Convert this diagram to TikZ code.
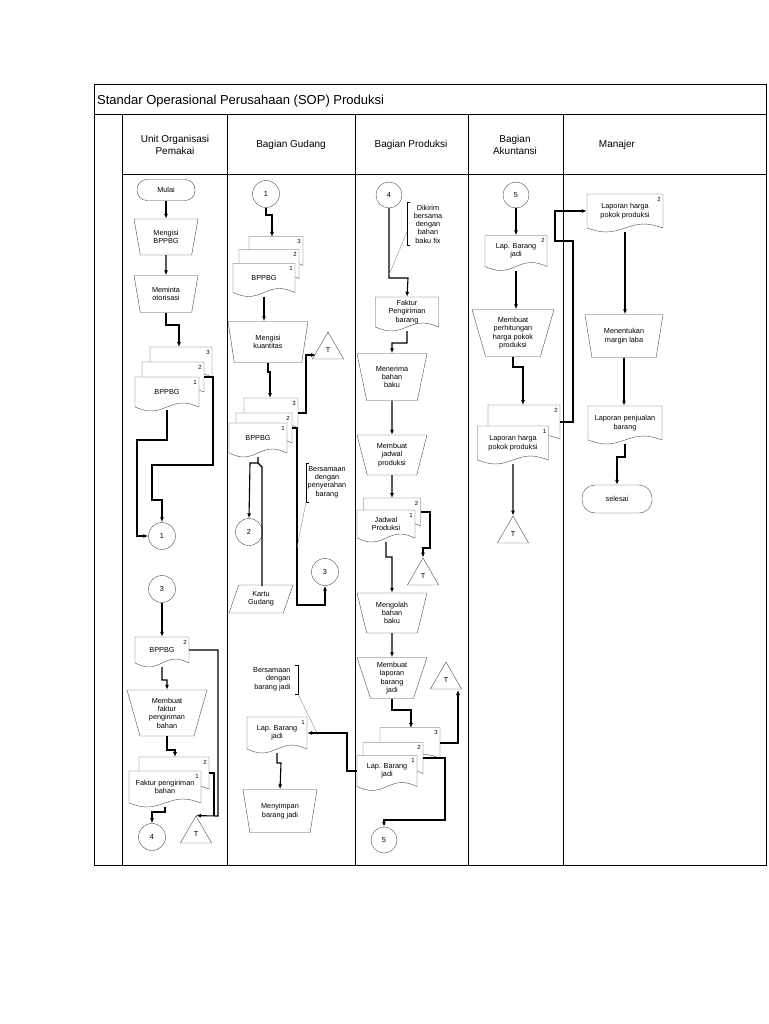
\documentclass[tikz,border=0pt]{standalone}
\usepackage{fontspec}
\setmainfont{Liberation Sans}
\usetikzlibrary{shapes.geometric,arrows.meta,calc}
\tikzset{
 frame/.style={line width=1pt,draw=black},
 shp/.style={draw=black!70,line width=0.4pt,fill=white},
 docshape/.style={shp},
 doctext/.style={inner sep=0pt,align=center,font=\fontsize{7.3}{8.3}\selectfont},
 num/.style={inner sep=0pt,font=\fontsize{6}{7}\selectfont},
 txt/.style={align=center,font=\fontsize{7.3}{8.3}\selectfont},
 term/.style={shp,rounded corners=10pt,txt},
 proc/.style={shp,trapezium,trapezium left angle=68,trapezium right angle=68,shape border rotate=180,trapezium stretches body,txt,inner sep=1pt},
 para/.style={shp,trapezium,trapezium left angle=60,trapezium right angle=120,trapezium stretches body,txt,inner sep=1pt},
 con/.style={shp,circle,minimum size=27pt,inner sep=0pt,txt},
 tri/.style={shp,regular polygon,regular polygon sides=3,minimum size=36pt,inner sep=0pt,font=\fontsize{7.3}{8}\selectfont},
 arr/.style={line width=1.1pt,-{Latex[length=5pt,width=4pt]}},
 ln/.style={line width=1.1pt},
 note/.style={line width=0.4pt,draw=black!45}
}
\newcommand\Doc[7]{%
 \path[docshape] ({#2-#4/2},{#3+#5/2}) sin ++({#4/4},4) cos ++({#4/4},-4) sin ++({#4/4},-4) cos ++({#4/4},4) -- ++(0,{-#5}) -- ++({-#4},0) -- cycle;
 \node[doctext,minimum width=#4,minimum height=#5] (#1) at (#2,#3) {#6};
 \node[num] at ({#2+#4/2-4},{#3-#5/2+5}) {#7};}
\begin{document}
\begin{tikzpicture}[x=1pt,y=-1pt]
\useasboundingbox[fill=white] (0,0) rectangle (768,1024);
% frame
\draw[frame] (94,85) rectangle (766,865);
\draw[frame] (94,115) -- (766,115);
\draw[frame] (122,175) -- (766,175);
\foreach \x in {122,227,355,468,563} \draw[frame] (\x,115) -- (\x,865);
\node[anchor=west,inner sep=0pt,font=\fontsize{13}{15}\selectfont] (title) at (97,101) {Standar Operasional Perusahaan (SOP) Produksi};
\tikzset{hd/.style={align=center,font=\fontsize{10}{12}\selectfont}}
\node[hd] (h1) at (175,145) {Unit Organisasi\\Pemakai};
\node[hd] (h2) at (291,145) {Bagian Gudang};
\node[hd] (h3) at (411,145) {Bagian Produksi};
\node[hd] (h4) at (515,145) {Bagian\\Akuntansi};
\node[hd] (h5) at (617,145) {Manajer};

% ===== column 1
\node[term,minimum width=58pt,minimum height=21pt] (mulai) at (166,190) {Mulai};
\node[proc,minimum width=64pt,minimum height=36pt] (m1) at (166,237) {Mengisi\\BPPBG};
\node[proc,minimum width=64pt,minimum height=37pt] (m2) at (166,294) {Meminta\\otorisasi};
\Doc{s1c}{181}{362}{62}{30}{}{3}
\Doc{s1b}{173}{377}{62}{30}{}{2}
\Doc{s1}{167}{392}{64}{30}{BPPBG}{1}
\node[con] (cir1) at (162,536) {1};
\draw[arr] (mulai) -- (m1);
\draw[arr] (m1) -- (m2);
\draw[arr] (m2.south) |- (179,325) -- (179,347);
\draw[arr] ([yshift=-3pt]s1.south) |- (137,440) |- (cir1.west);
\draw[arr] (s1b.east) -| (213,465) -| (152,500) -| (cir1.north);

\node[con] (cir3) at (162,589) {3};
\Doc{b2}{162}{650}{54}{26}{BPPBG}{2}
\node[proc,minimum width=80pt,minimum height=46pt] (m3) at (167,713) {Membuat\\faktur\\pengiriman\\bahan};
\Doc{f1b}{174}{773}{70}{32}{}{2}
\Doc{f1}{165}{787}{72}{32}{Faktur pengiriman\\bahan}{1}
\node[con] (cir4) at (152,837) {4};
\node[tri] (T1) at (196,834) {T};
\draw[arr] (cir3) -- (b2.north);
\draw[arr] ([yshift=-4pt]b2.south) |- (167,680) -- (m3.north);
\draw[arr] (m3.south) |- (175,750) -- (175,757);
\draw[arr] ([yshift=-4pt]f1.south) |- (152,812) -- (cir4.north);
\draw[arr] (b2.east) -| (218,816) -- (T1.north);
\draw[ln] (f1b.east) -| (214,816);

% ===== column 2
\node[con] (cir1b) at (266,194) {1};
\Doc{g1c}{276}{251}{54}{29}{}{3}
\Doc{g1b}{269}{264}{60}{29}{}{2}
\Doc{g1}{264}{278}{62}{29}{BPPBG}{1}
\node[proc,minimum width=80pt,minimum height=41pt] (k) at (268,342) {Mengisi\\kuantitas};
\Doc{g2c}{271}{413}{54}{30}{}{3}
\Doc{g2b}{264}{428}{56}{30}{}{2}
\Doc{g2}{258}{438}{58}{30}{BPPBG}{1}
\node[tri] (T2) at (328,350) {T};
\node[con] (cir2) at (249,532) {2};
\node[para,minimum width=64pt,minimum height=28pt] (kartu) at (261,599) {Kartu\\Gudang};
\node[con] (cir3b) at (325,572) {3};
\draw[arr] (cir1b.south) |- (272,215) -- (272,237);
\draw[arr] ([yshift=-4pt]g1.south) -- (g1.south |- k.north);
\draw[arr] (k.south) |- (270,372) -- (270,398);
\draw[arr] (g2c.east) -| (306,355) -- (316,355);
\draw[arr] ([yshift=-4pt]g2.south) |- (250,463) -- (cir2.north);
\draw[ln] (258,463) -- (262,467) -- (262,586);
\draw[arr] (g2b.east) -| (297,605) -| (cir3b.south);
\draw[line width=0.5pt] (309,463) -- (306,463) -- (306,502) -- (309,502);
\node[txt] (ann1) at (327,482) {Bersamaan\\dengan\\penyerahan\\barang};
\draw[note] (306,502) -- (297,548);

\node[txt,align=right,anchor=east] (ann2) at (294,679) {Bersamaan\\dengan\\barang jadi};
\draw[line width=0.5pt] (295,665) -- (298,665) -- (298,694) -- (295,694);
\draw[note] (298,694) -- (318,735);
\Doc{lj1}{277}{733}{60}{32}{Lap. Barang\\jadi}{1}
\node[proc,minimum width=74pt,minimum height=43pt] (ms) at (280,811) {Menyimpan\\barang jadi};
\draw[arr] ([yshift=-4pt]lj1.south) |- (281,763) -- (ms.north);

% ===== column 3
\node[con,minimum size=26pt] (cir4b) at (389,195) {4};
\Doc{fp}{407}{312}{63}{30}{Faktur\\Pengiriman\\barang}{}
\draw[arr] (cir4b.south) |- (408,278) -- (fp.north);
\draw[line width=0.5pt] (410,202) -- (407,202) -- (407,245) -- (410,245);
\node[txt] (ann3) at (428,224) {Dikirim\\bersama\\dengan\\bahan\\baku fix};
\draw[note] (407,232) -- (389,275);
\node[proc,minimum width=70pt,minimum height=47pt] (mb) at (392,377) {Menerima\\bahan\\baku};
\node[proc,minimum width=70pt,minimum height=40pt] (mj) at (392,455) {Membuat\\jadwal\\produksi};
\Doc{jpb}{392}{512}{57}{28}{}{2}
\Doc{jp}{386}{524}{58}{28}{Jadwal\\Produksi}{1}
\node[tri] (T3) at (423,576) {T};
\node[proc,minimum width=70pt,minimum height=40pt] (mo) at (392,613) {Mengolah\\bahan\\baku};
\node[proc,minimum width=70pt,minimum height=41pt] (ml) at (392,678) {Membuat\\laporan\\barang\\jadi};
\Doc{lpc}{410}{743}{60}{31}{}{3}
\Doc{lpb}{393}{758}{60}{31}{}{2}
\Doc{lp1}{387}{771}{60}{31}{Lap. Barang\\jadi}{1}
\node[tri] (T4) at (446,680) {T};
\node[con,minimum size=26pt] (cir5) at (384,840) {5};
\draw[arr] ([yshift=-4pt]fp.south) |- (392,343) -- (mb.north);
\draw[arr] (mb) -- (mj);
\draw[arr] (mj.south) -- (392,498);
\draw[arr] (jpb.east) -| (430,548) -| (T3.north);
\draw[arr] ([yshift=-4pt]jp.south) |- (392,557) -- (mo.north);
\draw[arr] (mo) -- (ml);
\draw[arr] (ml.south) |- (411,710) -- (411,728);
\draw[arr] (lpc.east) -| (458,690);
\draw[arr] (lpb.east) -| (445,820) -| (cir5.north);
\draw[arr] (lp1.west) -| (347,733) -- (lj1.east);

% ===== column 4
\node[con,minimum size=26pt] (cir5b) at (516,195) {5};
\Doc{lb}{516}{251}{62}{31}{Lap. Barang\\jadi}{2}
\node[proc,minimum width=82pt,minimum height=47pt] (hp) at (513,333) {Membuat\\perhitungan\\harga pokok\\produksi};
\Doc{lhb}{524}{422}{72}{34}{}{2}
\Doc{lh}{513}{443}{71}{34}{Laporan harga\\pokok produksi}{1}
\node[tri] (T5) at (513,534) {T};
\draw[arr] (cir5b) -- (lb.north);
\draw[arr] ([yshift=-4pt]lb.south) -- (lb.south |- hp.north);
\draw[arr] (hp.south) |- (523,367) -- (523,405);
\draw[arr] ([yshift=-4pt]lh.south) -- (T5.north);

% ===== column 5
\Doc{lm}{625}{211}{76}{34}{Laporan harga\\pokok produksi}{2}
\node[proc,minimum width=78pt,minimum height=43pt] (mm) at (624,336) {Menentukan\\margin laba};
\Doc{lpj}{625}{423}{74}{34}{Laporan penjualan\\barang}{}
\node[term,minimum width=70pt,minimum height=28pt,rounded corners=13pt] (sel) at (617,499) {selesai};
\draw[arr] (lhb.east) -| (573,241) -| (555,211) -- (lm.west);
\draw[arr] ([yshift=-4pt]lm.south) -- (lm.south |- mm.north);
\draw[arr] (mm.south) -- (mm.south |- lpj.north);
\draw[arr] ([yshift=-4pt]lpj.south) |- (617,457) -- (sel.north);
\end{tikzpicture}
\end{document}
